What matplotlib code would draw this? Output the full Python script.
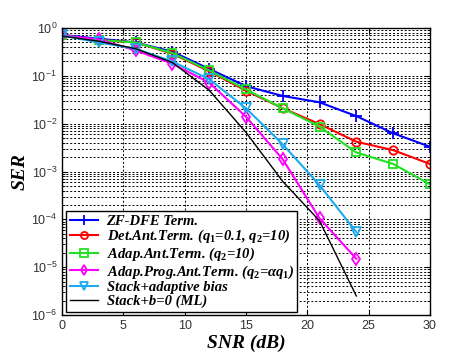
import matplotlib

matplotlib.use("Agg")
import matplotlib.pyplot as plt  # noqa: E402
import numpy as np  # noqa: E402

# SNR grid (dB) and symbol error rates
SNR = [0, 3, 6, 9, 12, 15, 18, 21, 24, 27, 30]
SNR_SHORT = [0, 3, 6, 9, 12, 15, 18, 21, 24]

ZF_DFE = [0.72, 0.6, 0.5, 0.32, 0.14, 0.061, 0.038, 0.028, 0.0144, 0.0063, 0.0033]
DET_ANT = [0.7, 0.56, 0.5, 0.29, 0.125, 0.049, 0.021, 0.0098, 0.0042, 0.0028, 0.00144]
ADAP_ANT = [0.7, 0.56, 0.5, 0.3, 0.13, 0.052, 0.021, 0.0087, 0.0025, 0.00144, 0.00054]
ADAP_PROG = [0.7, 0.58, 0.34, 0.18, 0.072, 0.014, 0.0018, 1.05e-4, 1.5e-5]
STACK_BIAS = [0.7, 0.5, 0.37, 0.2, 0.085, 0.021, 0.0037, 5.2e-4, 5.4e-5]
STACK_ML = [0.68, 0.53, 0.37, 0.19, 0.05, 0.0066, 6.2e-4, 9.3e-5, 2.5e-6]

LABELS = [
    "ZF-DFE Term.",
    r"Det.Ant.Term. ($q_1$=0.1, $q_2$=10)",
    r"Adap.Ant.Term. ($q_2$=10)",
    r"Adap.Prog.Ant.Term. ($q_2$=$\alpha q_1$)",
    "Stack+adaptive bias",
    "Stack+b=0 (ML)",
]

plt.rcParams["mathtext.fontset"] = "custom"
plt.rcParams["mathtext.it"] = "Liberation Serif:italic:bold"
plt.rcParams["mathtext.rm"] = "Liberation Serif:bold"
plt.rcParams["xtick.direction"] = "in"
plt.rcParams["ytick.direction"] = "in"

fig = plt.figure(figsize=(4.74, 3.55), dpi=100)
ax = fig.add_axes([0.1308, 0.1127, 0.7762, 0.8083])

ax.plot(SNR, ZF_DFE, color="#0000FF", marker="+", ms=8, mew=1.3, lw=1.5)
ax.plot(SNR, DET_ANT, color="#FF0000", marker="o", ms=6, mfc="none", mew=1.3, lw=1.5)
ax.plot(SNR, ADAP_ANT, color="#22E022", marker="s", ms=6, mfc="none", mew=1.3, lw=1.5)
ax.plot(SNR_SHORT, ADAP_PROG, color="#FF00FF", marker="d", ms=6, mfc="none", mew=1.3, lw=1.5)
ax.plot(SNR_SHORT, STACK_BIAS, color="#1CAAEE", marker="v", ms=7, mfc="none", mew=1.3, lw=1.5)
ax.plot(SNR_SHORT, STACK_ML, color="black", lw=1.0)

ax.set_yscale("log")
ax.set_xlim(0, 30)
ax.set_ylim(1e-6, 1)
ax.set_xticks([0, 5, 10, 15, 20, 25, 30])
ax.set_yticks([1e-6, 1e-5, 1e-4, 1e-3, 1e-2, 1e-1, 1])
ax.tick_params(labelsize=9, which="both", top=True, right=True, labelcolor="#333333")
for lbl in ax.get_xticklabels() + ax.get_yticklabels():
    lbl.set_family("Liberation Sans")

ax.grid(True, which="major", color="black", ls=(0, (2, 2)), lw=0.7)
ax.grid(True, which="minor", axis="y", color="black", ls=(0, (2, 2)), lw=0.7)
for s in ax.spines.values():
    s.set_linewidth(1.0)

lab_font = dict(family="Liberation Serif", style="italic", weight="bold", size=14)
ax.set_xlabel("SNR (dB)", labelpad=2, **lab_font)
ax.set_ylabel("SER", labelpad=2, **lab_font)

leg = ax.legend(LABELS, loc="lower left", bbox_to_anchor=(0.012, 0.012),
                prop=dict(family="Liberation Serif", style="italic", weight="bold", size=10.5),
                frameon=True, fancybox=False, edgecolor="black", framealpha=1,
                borderpad=0.25, labelspacing=0.02, handlelength=1.9, handletextpad=0.6,
                borderaxespad=0, markerscale=0.85)
leg.get_frame().set_linewidth(1.0)

fig.savefig("out.png", dpi=100)
